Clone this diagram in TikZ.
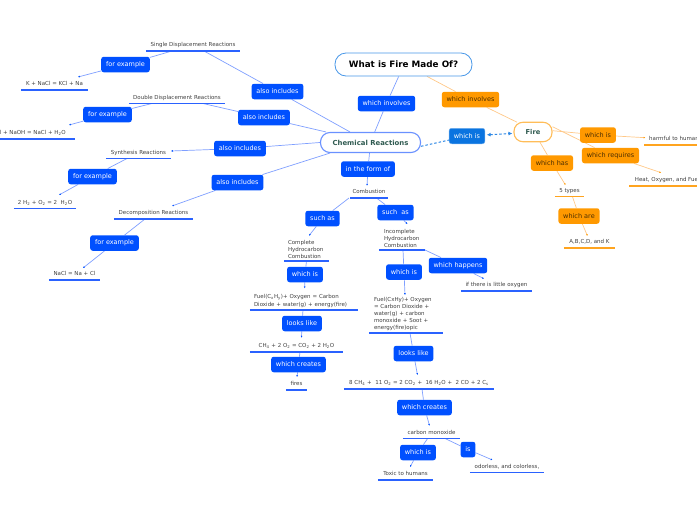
\documentclass[tikz,border=0pt]{standalone}
\usepackage{fontspec}
\setmainfont{DejaVu Sans}
\usepackage{xcolor}
\usepackage{tikz}
\usetikzlibrary{arrows.meta, backgrounds}

\definecolor{pillblue}{HTML}{0050FF}
\definecolor{pillorange}{HTML}{FF9900}
\definecolor{pilllink}{HTML}{0A74E0}
\definecolor{lineblue}{HTML}{7F9FFF}
\definecolor{lineorange}{HTML}{FFC888}
\definecolor{underblue}{HTML}{2A62FF}
\definecolor{underorange}{HTML}{FFA41F}
\definecolor{maintext}{HTML}{2F5A50}

\tikzset{
    pill/.style={rounded corners=2.5, inner xsep=4.8, inner ysep=0, minimum height=15.5, font=\fontsize{6.5}{8}\selectfont},
    bluepill/.style={pill, fill=pillblue, text=white},
    orangepill/.style={pill, fill=pillorange, text=black!70!pillorange},
    linkpill/.style={pill, fill=pilllink, text=white, draw=pilllink!60!white, line width=0.5},
    bleaf/.style={anchor=south, inner xsep=0, inner ysep=3, text depth=1, text=black!75, font=\fontsize{5.5}{7}\selectfont,
        append after command={(\tikzlastnode.south west) edge[underblue, line width=1.2] (\tikzlastnode.south east)}},
    oleaf/.style={anchor=south, inner xsep=0, inner ysep=3, text depth=1, text=black!75, font=\fontsize{5.5}{7}\selectfont,
        append after command={(\tikzlastnode.south west) edge[underorange, line width=1.2] (\tikzlastnode.south east)}},
    lines/.style={text depth={}, align=left, inner ysep=2.5},
    bline/.style={lineblue, line width=0.7, -{Latex[length=1.8,width=1.8,pillblue]}},
    bplain/.style={lineblue, line width=0.7},
    oline/.style={lineorange, line width=0.7, -{Latex[length=1.8,width=1.8,pillorange]}},
    oplain/.style={lineorange, line width=0.7}
}

\begin{document}
\begin{tikzpicture}[x=1pt, y=-1pt]
    \useasboundingbox (0,0) rectangle (697,520);

    \node[draw=pilllink!75!white, line width=0.8, fill=white, rounded corners=11, minimum width=137, minimum height=23, inner sep=0, font=\fontsize{8.8}{10}\selectfont\bfseries] (title) at (403.5,64.5) {What is Fire Made Of?};
    \node[draw=underblue!70!white, line width=1.1, fill=white, rounded corners=9.5, minimum width=100, minimum height=20, inner sep=0, text=maintext, font=\fontsize{6.9}{8}\selectfont\bfseries] (chem) at (370.5,142.5) {Chemical Reactions};
    \node[draw=pillorange!65!white, line width=1.1, fill=white, rounded corners=9, minimum width=38, minimum height=19.5, inner sep=0, text=maintext, font=\fontsize{6.7}{8}\selectfont\bfseries] (fire) at (533,132) {Fire};

    \node[bluepill] (involve) at (386.5,103.5) {which involves};
    \node[orangepill] (oinvolve) at (470.5,99.5) {which involves};
    \node[linkpill] (link) at (467,136) {which is};
    \node[bluepill] (form) at (368,169) {in the form of};

    \node[bluepill] (alsoa) at (277.5,91.5) {also includes};
    \node[bluepill] (alsob) at (264,117.5) {also includes};
    \node[bluepill] (alsoc) at (240,148.5) {also includes};
    \node[bluepill] (alsod) at (237.5,182.5) {also includes};
    \node[bluepill] (exa) at (125.5,64.5) {for example};
    \node[bluepill] (exb) at (107.5,114.5) {for example};
    \node[bluepill] (exc) at (92.5,176.5) {for example};
    \node[bluepill] (exd) at (114.5,243) {for example};

    \node[bleaf, minimum width=94] (single) at (193,51) {Single Displacement Reactions};
    \node[bleaf, minimum width=67] (kna) at (54.5,90) {K + NaCl = KCl + Na};
    \node[bleaf, minimum width=96] (double) at (177,103.5) {Double Displacement Reactions};
    \node[bleaf, anchor=south east, minimum width=92, inner xsep=3.5] (hcl) at (75,139) {HCl + NaOH = NaCl + H\textsubscript{2}O};
    \node[bleaf, minimum width=65] (synth) at (138.5,158.5) {Synthesis Reactions};
    \node[bleaf, minimum width=62] (water) at (45,208.5) {2 H\textsubscript{2} + O\textsubscript{2} = 2~ H\textsubscript{2}O};
    \node[bleaf, minimum width=79] (decomp) at (153.5,219) {Decomposition Reactions};
    \node[bleaf, minimum width=51] (nacl) at (74.5,280) {NaCl = Na + Cl};

    \node[bleaf, minimum width=37] (combust) at (369,198) {Combustion};
    \node[bluepill] (suchl) at (322.5,218.5) {such as};
    \node[bluepill] (suchr) at (395.5,212.5) {such~ as};
    \node[bleaf, lines, text width=37, inner xsep=4] (complete) at (306.5,261) {Complete\\Hydrocarbon\\Combustion};
    \node[bleaf, lines, text width=36, inner xsep=5] (incomplete) at (402,250) {Incomplete\\Hydrocarbon\\Combustion};

    \node[bluepill] (isl) at (305,274.5) {which is};
    \node[bluepill] (isr) at (404,272) {which is};
    \node[bluepill] (happens) at (458,265.5) {which happens};
    \node[bleaf, minimum width=71] (little) at (496.5,291) {if there is little oxygen};
    \node[bleaf, lines, text width=100, inner xsep=4] (fuell) at (304,310) {Fuel(C\textsubscript{x}H\textsubscript{y})+ Oxygen = Carbon\\[1pt]Dioxide + water(g) + energy(fire)};
    \node[bleaf, lines, text width=64, inner xsep=5] (fuelr) at (406,333) {Fuel(CxHy)+ Oxygen\\= Carbon Dioxide +\\water(g) + carbon\\monoxide + Soot +\\energy(fire)opic};

    \node[bluepill] (likel) at (302,323.5) {looks like};
    \node[bluepill] (liker) at (413.5,353.5) {looks like};
    \node[bleaf, minimum width=93] (methane) at (296.5,352) {CH\textsubscript{4} + 2 O\textsubscript{2} = CO\textsubscript{2} + 2 H\textsubscript{2}O};
    \node[bleaf, minimum width=150] (soot) at (419,389) {8 CH\textsubscript{4} +~ 11 O\textsubscript{2} = 2 CO\textsubscript{2} +~ 16 H\textsubscript{2}O +~ 2 CO + 2 C\textsubscript{s}};

    \node[bluepill] (createl) at (298.5,364.5) {which creates};
    \node[bluepill] (creater) at (424.5,407.5) {which creates};
    \node[bleaf, minimum width=21] (fires) at (296.5,390) {fires};
    \node[bleaf, minimum width=57] (monox) at (431.5,438.7) {carbon monoxide};
    \node[bluepill] (isb) at (418,452.5) {which is};
    \node[bluepill] (isc) at (468,449.5) {is};
    \node[bleaf, minimum width=55] (toxic) at (405.5,480) {Toxic to humans};
    \node[bleaf, minimum width=74] (odor) at (507,472.7) {odorless, and colorless,};

    \node[orangepill] (ois) at (598,135) {which is};
    \node[orangepill] (orequire) at (610.5,155.5) {which requires};
    \node[orangepill] (ohas) at (552,163) {which has};
    \node[orangepill] (oare) at (579,216) {which are};
    \node[oleaf, anchor=south west, minimum width=62, inner xsep=5] (harm) at (644,145) {harmful to humans};
    \node[oleaf, anchor=south west, minimum width=76, inner xsep=5] (heat) at (629,186) {Heat, Oxygen, and Fuel};
    \node[oleaf, minimum width=29] (types) at (569.5,196.7) {5 types};
    \node[oleaf, minimum width=51] (abc) at (589.5,248) {A,B,C,D, and K};

    \draw[pilllink!85!white, line width=1, dash pattern=on 2.5 off 2, {Latex[length=4,width=4]}-{Latex[length=4,width=4]}, shorten <=1.5, shorten >=1] ([yshift=-3.8]chem.east) -- (link) -- ([yshift=-1.3]fire.west);

    \begin{scope}[on background layer]
        \draw[bplain] ([xshift=-20.5]chem.north) -- (alsoa) -- ([xshift=11]single.south);
        \draw[bplain] ([xshift=-44.5]chem.north) -- (alsob) -- ([xshift=26]double.south);
        \draw[bline] (chem.180) -- (alsoc) -- ([xshift=32.5,yshift=7.5]synth.south);
        \draw[bline] ([xshift=-40.5]chem.south) -- (alsod) -- ([xshift=18.5,yshift=13]decomp.south);

        \draw[bline] ([xshift=-21]single.south) -- (exa) -- ([xshift=23.5,yshift=13]kna.south);
        \draw[bline] ([xshift=-25]double.south) -- (exb) -- ([xshift=-6,yshift=14]hcl.south east);
        \draw[bline] ([xshift=-11.5]synth.south) -- (exc) -- ([xshift=14,yshift=13.5]water.south);
        \draw[bline] ([xshift=-8.5]decomp.south) -- (exd) -- ([xshift=8.5,yshift=12]nacl.south);

        \draw[bplain] ([xshift=-4.8]title.south) -- (involve) -- ([xshift=4.2]chem.north);
        \draw[oplain] ([xshift=23.5]title.south) -- (oinvolve) -- ([xshift=-16,yshift=-0.5]fire.north);

        \draw[bline] ([xshift=-1]chem.south) -- (form) -- ([xshift=-2,yshift=12.3]combust.south);
        \draw[bline] ([xshift=-20]combust.south) -- (suchl) -- ([xshift=2.5,yshift=25.3]complete.south);
        \draw[bline] ([xshift=7.5]combust.south) -- (suchr) -- ([xshift=5.5,yshift=26]incomplete.south);
        \draw[bline] (complete.south) -- (isl) -- ([xshift=0.7,yshift=21.7]fuell.south);
        \draw[bline] ([xshift=1]incomplete.south) -- (isr) -- ([xshift=-1,yshift=38]fuelr.south);
        \draw[bline] ([xshift=23]incomplete.south) -- (happens) -- ([xshift=-12.5,yshift=12.3]little.south);

        \draw[bline] ([xshift=-1]fuell.south) -- (likel) -- ([xshift=5,yshift=14.3]methane.south);
        \draw[bline] ([xshift=3.5]methane.south) -- (createl) -- ([xshift=0.5,yshift=13]fires.south);
        \draw[bline] ([xshift=4]fuelr.south) -- (liker) -- ([xshift=-1.5,yshift=14]soot.south);
        \draw[bline] ([xshift=3]soot.south) -- (creater) -- ([xshift=-2,yshift=13]monox.south);
        \draw[bline] ([xshift=-4]monox.south) -- (isb) -- ([xshift=4.5,yshift=13]toxic.south);
        \draw[bline] ([xshift=14]monox.south) -- (isc) -- ([xshift=-14.5,yshift=12.7]odor.south);

        \draw[oline] ([yshift=1.3]fire.east) -- (ois) -- ([xshift=-30,yshift=7.3]harm.south);
        \draw[oline] ([yshift=5.3]fire.east) -- (orequire) -- ([xshift=-6,yshift=13.3]heat.south);
        \draw[oline] ([xshift=7]fire.south) -- (ohas) -- ([xshift=-4,yshift=11.7]types.south);
        \draw[oline] ([xshift=3]types.south) -- (oare) -- ([xshift=-2,yshift=12]abc.south);
    \end{scope}
\end{tikzpicture}
\end{document}
